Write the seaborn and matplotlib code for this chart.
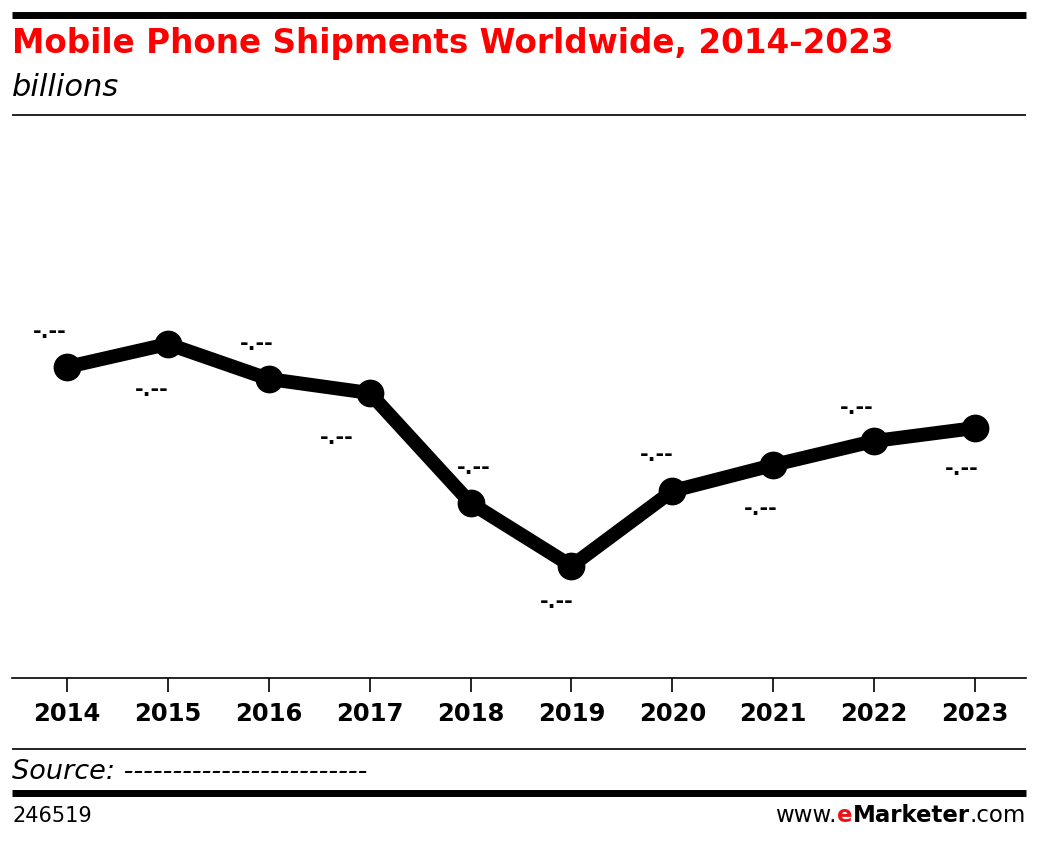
import pandas as pd
import seaborn as sns
import matplotlib.pyplot as plt
from matplotlib.lines import Line2D

# Chart data (billions)
years = [2014, 2015, 2016, 2017, 2018, 2019, 2020, 2021, 2022, 2023]
shipments = [1.555, 1.670, 1.495, 1.425, 0.875, 0.560, 0.935, 1.065, 1.185, 1.250]
point_labels = ['-.--'] * len(years)

# label placement relative to each point, in pixels (dx, dy up)
label_dx = [-17, -16, -12, -33, 3, -15, -16, -13, -17, -13]
label_dy = [36, -45, 36, -44, 36, -35, 37, -43, 34, -40]

data = pd.DataFrame({'year': years, 'shipments': shipments})

sns.set_theme(style='white')
plt.rcParams['font.family'] = ['DejaVu Sans']

W, H = 1038, 842
fig = plt.figure(figsize=(W / 100, H / 100), dpi=100)
ax = fig.add_axes([12 / W, 164 / H, 1014 / W, 553 / H])

sns.lineplot(data=data, x='year', y='shipments', ax=ax, color='black',
             linewidth=10, marker='o', markersize=20, markeredgewidth=0,
             solid_joinstyle='round', solid_capstyle='round')

px = 72 / 100  # pixels -> points
for x, y, lab, dx, dy in zip(years, shipments, point_labels, label_dx, label_dy):
    ax.annotate(lab, (x, y), xytext=(dx * px, (dy - 7) * px),
                textcoords='offset points', ha='center', va='baseline',
                fontsize=15, fontweight='bold', color='black')

ax.set_xlim(2013.455, 2023.505)
ax.set_ylim(0, 2.765)
ax.set_xticks(years)
ax.set_xticklabels([str(y) for y in years], fontsize=17.5, fontweight='bold',
                   color='black')
ax.set_yticks([])
ax.set_xlabel('')
ax.set_ylabel('')
for side in ['top', 'left', 'right']:
    ax.spines[side].set_visible(False)
ax.spines['bottom'].set_color('black')
ax.spines['bottom'].set_linewidth(1.2)
ax.tick_params(axis='x', direction='out', length=10, width=1.2,
               color='black', pad=7, bottom=True)

# header / footer rules
def hline(ypix, lw):
    y = 1 - ypix / H
    fig.add_artist(Line2D([12 / W, 1026 / W], [y, y], color='black',
                          linewidth=lw, solid_capstyle='butt'))

hline(15, 5)
hline(115, 1.2)
hline(749, 1.2)
hline(793, 5)

fig.text(12 / W, 1 - 44 / H, 'Mobile Phone Shipments Worldwide, 2014-2023',
         fontsize=23.5, fontweight='bold', color='#ff0000', va='center', ha='left')
fig.text(12 / W, 1 - 87 / H, 'billions', fontsize=22, fontstyle='italic',
         color='black', va='center', ha='left')
fig.text(12 / W, 1 - 772 / H, 'Source: -------------------------',
         fontsize=19.5, fontstyle='italic', color='black', va='center', ha='left')
fig.text(12 / W, 1 - 816 / H, '246519', fontsize=15, color='black',
         va='center', ha='left')

# www.eMarketer.com with red "e"
t1 = fig.text(1026 / W, 1 - 816 / H, '.com', fontsize=16.5, color='black',
              va='center', ha='right')
fig.canvas.draw()
r = fig.canvas.get_renderer()
x_right = t1.get_window_extent(r).x0
t2 = fig.text(x_right / W, 1 - 816 / H, 'Marketer', fontsize=16.5,
              fontweight='bold', color='black', va='center', ha='right')
x_right = t2.get_window_extent(r).x0
t3 = fig.text(x_right / W, 1 - 816 / H, 'e', fontsize=16.5,
              fontweight='bold', color='#e8141b', va='center', ha='right')
x_right = t3.get_window_extent(r).x0
fig.text(x_right / W, 1 - 816 / H, 'www.', fontsize=16.5, color='black',
         va='center', ha='right')

fig.savefig('out.png', dpi=100)
